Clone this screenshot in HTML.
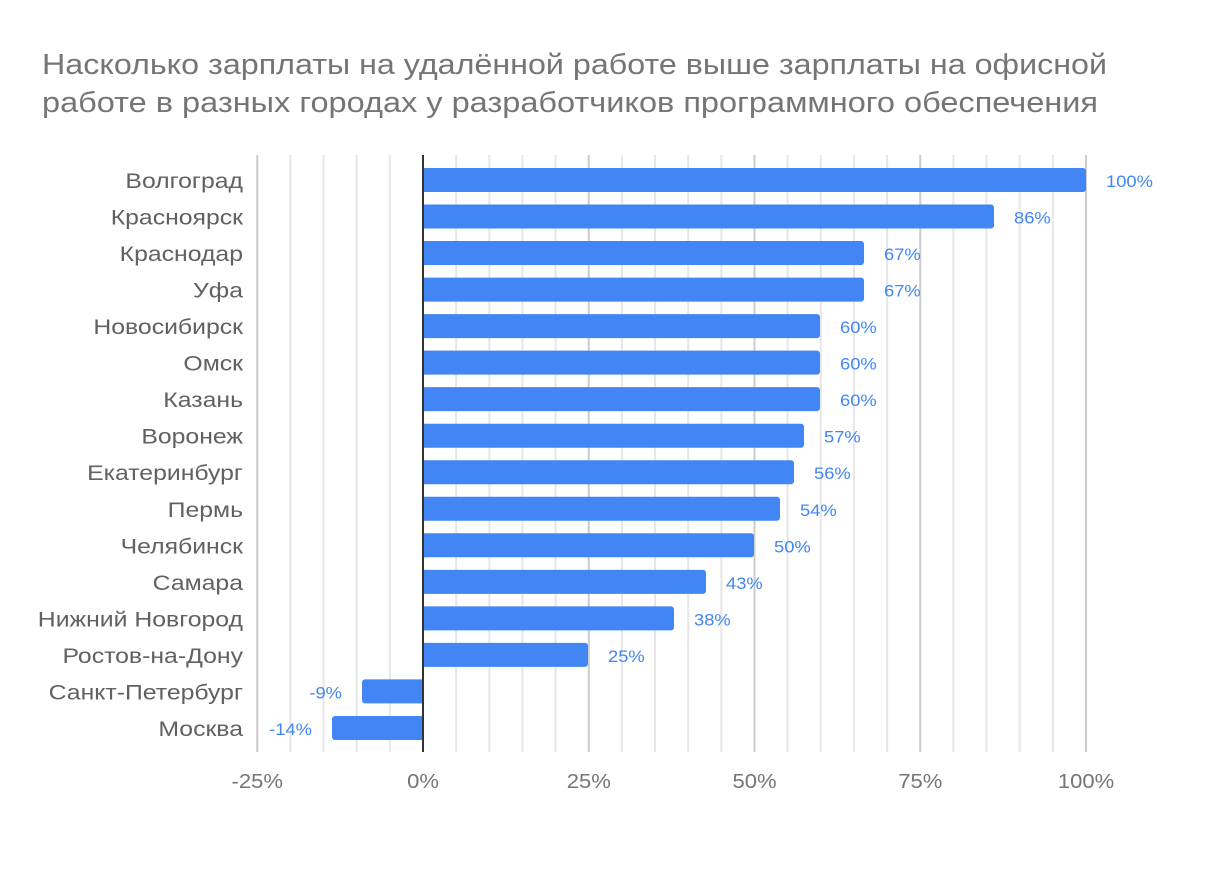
<!DOCTYPE html>
<html><head><meta charset="utf-8"><style>
body{margin:0;background:#fff;}
svg text{font-family:"Liberation Sans",sans-serif;}
</style></head><body>
<svg width="1208" height="868" xmlns="http://www.w3.org/2000/svg">
<rect width="1208" height="868" fill="#fff"/>
<text x="42" y="74" font-size="29" fill="#757575" textLength="1065" lengthAdjust="spacingAndGlyphs">Насколько зарплаты на удалённой работе выше зарплаты на офисной</text>
<text x="42" y="112" font-size="29" fill="#757575" textLength="1056" lengthAdjust="spacingAndGlyphs">работе в разных городах у разработчиков программного обеспечения</text>
<script>
var svg=document.currentScript.parentNode,ns="http://www.w3.org/2000/svg";
function el(t,a,txt){var e=document.createElementNS(ns,t);for(var k in a)e.setAttribute(k,a[k]);if(txt!=null)e.textContent=txt;svg.appendChild(e);return e;}
function stretch(e,f){var l=e.getComputedTextLength();e.setAttribute("textLength",l*f);e.setAttribute("lengthAdjust","spacingAndGlyphs");}
var x0=423,s=6.63;
for(var p=-25;p<=100;p+=5){var x=x0+p*s;if(p==0)continue;var maj=p%25==0;
el("line",{x1:x,x2:x,y1:155,y2:752,stroke:maj?"#cccccc":"#e6e6e6","stroke-width":2});}
["-25%","0%","25%","50%","75%","100%"].forEach(function(t,i){var e=el("text",{x:x0+(-25+25*i)*s,y:788,"font-size":20,fill:"#757575","text-anchor":"middle"},t);stretch(e,1.1);});
var names=["Волгоград","Красноярск","Краснодар","Уфа","Новосибирск","Омск","Казань","Воронеж","Екатеринбург","Пермь","Челябинск","Самара","Нижний Новгород","Ростов-на-Дону","Санкт-Петербург","Москва"];
var ends=[1086,994,864,864,820,820,820,804,794,780,754,706,674,588,362,332];
var labs=["100%","86%","67%","67%","60%","60%","60%","57%","56%","54%","50%","43%","38%","25%","-9%","-14%"];
for(var i=0;i<16;i++){var cy=180+i*36.53;
var t=el("text",{x:243,y:cy+8,"font-size":21,fill:"#616161","text-anchor":"end"},names[i]);stretch(t,1.18);
var e=ends[i],a=Math.min(e,x0),w=Math.abs(e-x0);
el("rect",{x:a,y:cy-12,width:w,height:24,rx:3,fill:"#4285f4"});
el("rect",{x:e>x0?a:a+w-4,y:cy-12,width:4,height:24,fill:"#4285f4"});
var v;
if(e>x0)v=el("text",{x:e+20,y:cy+7,"font-size":17,fill:"#4285f4"},labs[i]);
else v=el("text",{x:e-20,y:cy+7,"font-size":17,fill:"#4285f4","text-anchor":"end"},labs[i]);
stretch(v,1.08);}
el("line",{x1:x0,x2:x0,y1:155,y2:752,stroke:"#333","stroke-width":2});
</script>
</svg>
</body></html>
